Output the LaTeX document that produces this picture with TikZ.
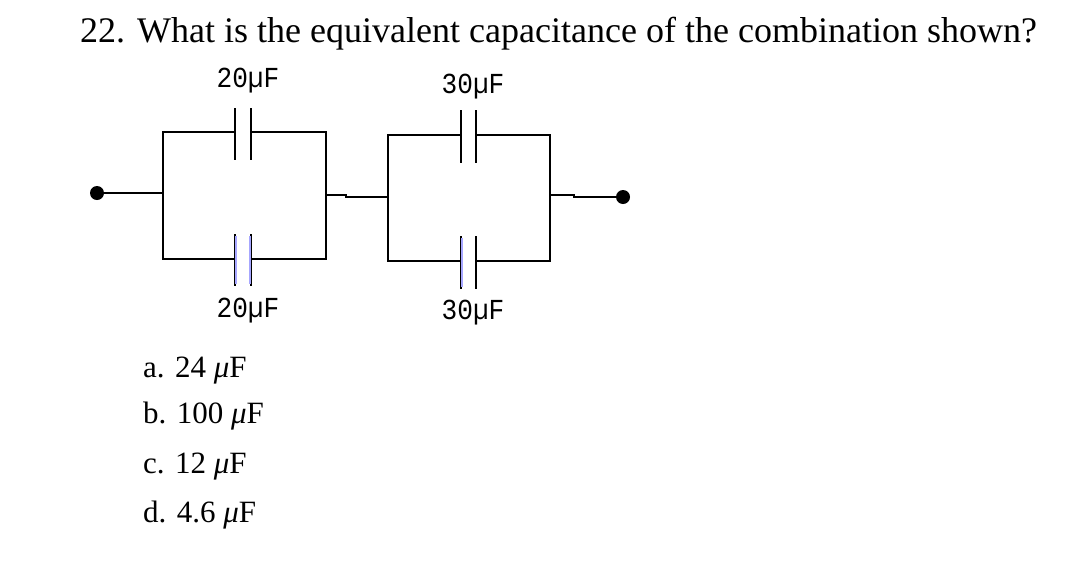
\documentclass[tikz,border=0pt]{standalone}
\usepackage{fontspec}
\setmainfont{Liberation Serif}
\newfontfamily\monof{Liberation Mono}
\begin{document}
\begin{tikzpicture}[x=1pt,y=-1pt,
  wire/.style={line width=1.3pt},
  plate/.style={line width=1.6pt},
  blueplate/.style={line width=2.2pt,draw=blue!35},
  lbl/.style={font=\monof\fontsize{29}{29}\selectfont,inner sep=0pt,xscale=0.9},
  ans/.style={font=\fontsize{31}{31}\selectfont,anchor=base west,inner sep=0pt},
  dot/.style={circle,fill=black,minimum size=14pt,inner sep=0pt}]
\useasboundingbox (0,0) rectangle (1078,568);
\node[font=\fontsize{36}{36}\selectfont,anchor=base west,inner sep=0pt] (title) at (80,42) {22. What is the equivalent capacitance of the combination shown?};
\node[dot] (L) at (97,193) {};
\node[dot] (R) at (623,197) {};
\coordinate (a1) at (163,132); \coordinate (a2) at (326,132);
\coordinate (a3) at (163,259); \coordinate (a4) at (326,259);
\coordinate (b1) at (388,135); \coordinate (b2) at (550,135);
\coordinate (b3) at (388,261); \coordinate (b4) at (550,261);
\draw[wire] (L) -- (163,193);
\draw[wire] (235,132) -- (a1) -- (a3) -- (235,259);
\draw[wire] (251,132) -- (a2) -- (a4) -- (251,259);
\draw[wire] (326,195) -- (346,195) -- (346,197) -- (388,197);
\draw[wire] (461,135) -- (b1) -- (b3) -- (461,261);
\draw[wire] (476,135) -- (b2) -- (b4) -- (476,261);
\draw[wire] (550,195) -- (574,195) -- (574,197) -- (R);
\draw[plate] (235,108) -- (235,160) (251,108) -- (251,160);
\draw[plate] (461,110) -- (461,163) (476,110) -- (476,163);
\draw[plate] (235,234) -- (235,286) (251,234) -- (251,286);
\draw[blueplate] (236,236) -- (236,284) (250,236) -- (250,284);
\draw[plate] (461,236) -- (461,289) (476,236) -- (476,289);
\draw[blueplate] (462,238) -- (462,287);
\node[lbl] (c1) at (248,81) {20µF};
\node[lbl] (c2) at (248,311) {20µF};
\node[lbl] (c3) at (473,87) {30µF};
\node[lbl] (c4) at (473,313) {30µF};
\node[ans] (aa) at (143,377) {a. 24 \textit{μ}F};
\node[ans] (ab) at (143,423) {b. 100 \textit{μ}F};
\node[ans] (ac) at (143,473) {c. 12 \textit{μ}F};
\node[ans] (ad) at (143,522) {d. 4.6 \textit{μ}F};
\end{tikzpicture}
\end{document}
